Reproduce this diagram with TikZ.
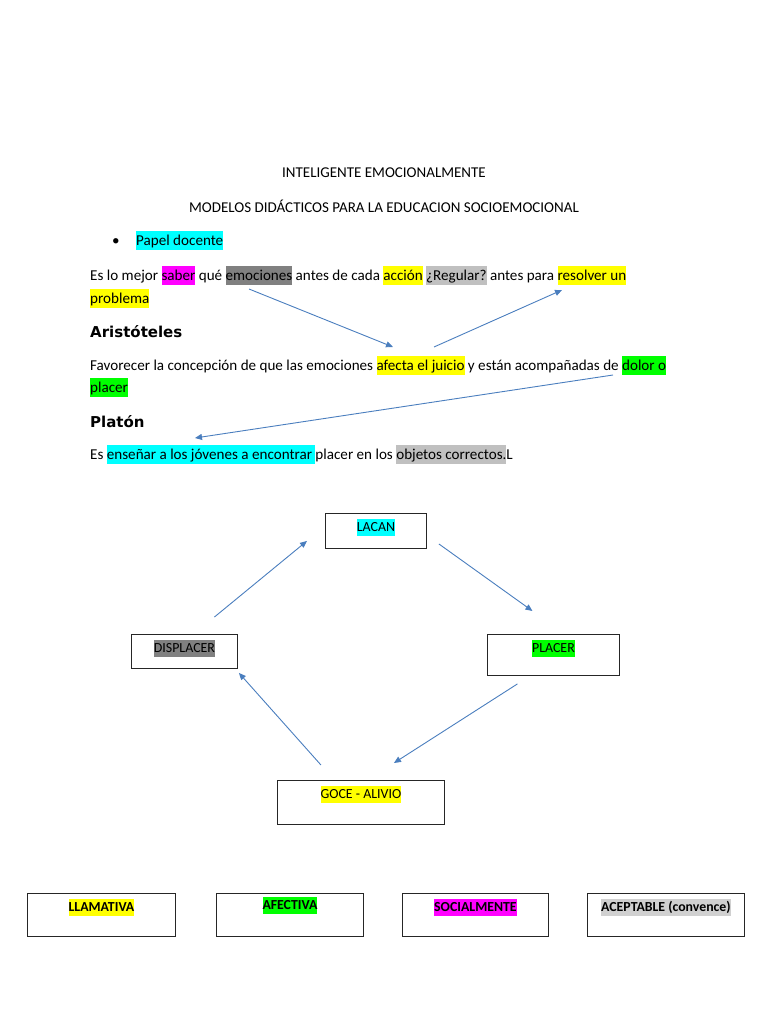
\documentclass[tikz,border=0pt]{standalone}
\usepackage{fontspec}
\setmainfont{Carlito}
\newfontfamily\headfont{DejaVu Sans}
\usepackage{xcolor}
\usetikzlibrary{arrows.meta}

\definecolor{hlcyan}{RGB}{0,255,255}
\definecolor{hlmag}{RGB}{255,0,255}
\definecolor{hldark}{RGB}{128,128,128}
\definecolor{hlyel}{RGB}{255,255,0}
\definecolor{hlgray}{RGB}{192,192,192}
\definecolor{hllight}{RGB}{208,208,208}
\definecolor{hlgreen}{RGB}{0,255,0}
\definecolor{arrblue}{RGB}{74,126,190}

% highlighted word, Word style
\newcommand{\hl}[2]{{\setlength{\fboxsep}{0pt}\colorbox{#1}{\rule[-0.3em]{0pt}{1.2em}#2}}}

\begin{document}
\begin{tikzpicture}[x=1pt, y=-1pt,
  ttl/.style={anchor=base, inner sep=0pt, font=\fontsize{15}{18}\selectfont},
  txt/.style={anchor=base west, inner sep=0pt, font=\fontsize{15.1}{18}\selectfont},
  head/.style={anchor=base west, inner sep=0pt, font=\headfont\bfseries\fontsize{15}{18}\selectfont},
  box/.style 2 args={draw=black!85, line width=0.9pt, anchor=north west, minimum width=#1pt,
    inner xsep=0pt, inner ysep=4pt, text height=14pt, text depth=#2pt, font=\fontsize{13.9}{16}\selectfont},
  bbox/.style 2 args={box={#1}{#2}, font=\bfseries\fontsize{13.8}{16}\selectfont},
  arr/.style={-{Triangle[length=7pt,width=6pt]}, line width=0.9pt, color=arrblue}
]
\useasboundingbox (0,0) rectangle (768,1024);

% Titles
\node[ttl] (titulo) at (384,178) {INTELIGENTE EMOCIONALMENTE};
\node[ttl] (subtit) at (384,213) {MODELOS DIDÁCTICOS PARA LA EDUCACION SOCIOEMOCIONAL};

% Papel docente
\node[txt] (bullet) at (112,245) {•};
\node[txt] (papel) at (136,245) {\hl{hlcyan}{Papel docente}};
\node[txt] (linea1) at (90,280) {Es lo mejor \hl{hlmag}{saber} qué \hl{hldark}{emociones} antes de cada \hl{hlyel}{acción} \hl{hlgray}{¿Regular?} antes para \hl{hlyel}{resolver un}};
\node[txt] (linea2) at (90,303) {\hl{hlyel}{problema}};

% Aristoteles
\node[head] (arist) at (90,337) {Aristóteles};
\node[txt] (linea3) at (90,370) {Favorecer la concepción de que las emociones \hl{hlyel}{afecta el juicio} y están acompañadas de \hl{hlgreen}{dolor o}};
\node[txt] (linea4) at (90,392) {\hl{hlgreen}{placer}};

% Platon
\node[head] (platon) at (90,427) {Platón};
\node[txt] (linea5) at (90,459) {Es \hl{hlcyan}{enseñar a los jóvenes a encontrar }placer en los \hl{hlgray}{objetos correctos.}L};

% Arrows between the words
\coordinate (emoc) at (249,289);
\coordinate (juicio) at (393,347);
\coordinate (juicio2) at (434,347);
\coordinate (resol) at (562,290);
\coordinate (dolor) at (613,375);
\coordinate (ensenar) at (195,438);
\draw[arr] (emoc) -- (juicio);
\draw[arr] (juicio2) -- (resol);
\draw[arr] (dolor) -- (ensenar);

% Cycle
\node[box={101}{13}] (lacan) at (325,513) {\hl{hlcyan}{LACAN}};
\node[box={106}{12}] (displ) at (131,634) {\hl{hldark}{DISPLACER}};
\node[box={132}{19}] (placer) at (487,634) {\hl{hlgreen}{PLACER}};
\node[box={167}{22}] (goce) at (277,780) {\hl{hlyel}{GOCE - ALIVIO}};

\draw[arr] ([shift={(30,-17)}]displ.north) -- ([shift={(-18,10)}]lacan.west);
\draw[arr] ([shift={(12,13)}]lacan.east) -- ([shift={(-21,-23)}]placer.north);
\draw[arr] ([shift={(-36,8)}]placer.south) -- ([shift={(33,-17)}]goce.north);
\draw[arr] ([shift={(-40,-15)}]goce.north) -- ([shift={(1,4)}]displ.south east);

% Bottom row
\node[bbox={148}{21}] (llam) at (27,893) {\hl{hlyel}{LLAMATIVA}};
\node[bbox={147}{23}, text height=12pt] (afec) at (216,893) {\hl{hlgreen}{AFECTIVA}};
\node[bbox={146}{21}] (social) at (402,893) {\hl{hlmag}{SOCIALMENTE}};
\node[bbox={157}{21}] (acept) at (587,893) {\hl{hllight}{ACEPTABLE (convence)}};

\end{tikzpicture}
\end{document}
